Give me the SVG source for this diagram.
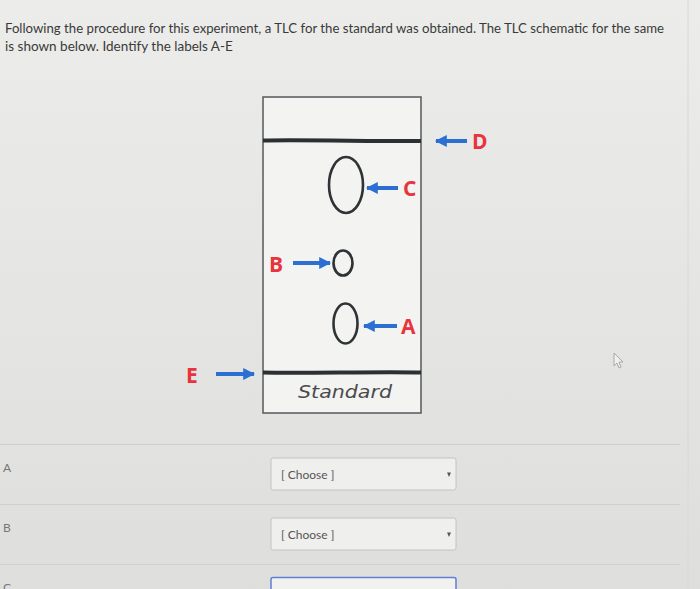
<svg xmlns="http://www.w3.org/2000/svg" width="700" height="589" viewBox="0 0 700 589">
<defs>
<linearGradient id="bg" x1="0" y1="0" x2="0" y2="1">
<stop offset="0" stop-color="#ececea"/>
<stop offset="1" stop-color="#dededd"/>
</linearGradient>
<marker id="ah" viewBox="0 0 10 10" refX="9" refY="5" markerWidth="3" markerHeight="3.2" orient="auto" markerUnits="strokeWidth">
<path d="M0,0 L10,5 L0,10 z" fill="#2b6fd2"/>
</marker>
<style>
.q{font-family:Lato,"Open Sans",sans-serif;font-size:13.5px;fill:#3a3a3a}
.lbl{font-family:"Open Sans","Liberation Sans",sans-serif;font-weight:bold;font-size:21px;fill:#e8343c}
.arr{stroke:#2b6fd2;stroke-width:4;fill:none;marker-end:url(#ah)}
.spot{fill:none;stroke:#2f3336;stroke-width:2.6}
.band{stroke:#2d3033;stroke-width:4;fill:none}
.sep{stroke:#cfcfcd;stroke-width:1}
.row{font-family:Lato,"Open Sans",sans-serif;font-size:12px;fill:#777}
.dd{fill:#efefed;stroke:#c4c4c2;stroke-width:1}
.ddt{font-family:Lato,"Open Sans",sans-serif;font-size:12px;fill:#555}
</style>
</defs>
<rect width="700" height="589" fill="url(#bg)"/>
<line x1="688" y1="0" x2="688" y2="589" stroke="#d8d8d6" stroke-width="1"/>
<g id="question">
<text class="q" x="5" y="33" textLength="659" lengthAdjust="spacingAndGlyphs">Following the procedure for this experiment, a TLC for the standard was obtained. The TLC schematic for the same</text>
<text class="q" x="5" y="51">is shown below. Identify the labels A-E</text>
</g>
<g id="plate">
<rect x="263" y="97" width="158" height="316" fill="#f3f3f2" stroke="#55585c" stroke-width="1.5"/>
<text x="345" y="398" text-anchor="middle" font-family="'DejaVu Sans',sans-serif" font-style="italic" font-size="18" fill="#4a4a4a" textLength="94" lengthAdjust="spacingAndGlyphs">Standard</text>
</g>
<g id="solvent-front"><path class="band" d="M263,140.5 C300,139.5 380,141.5 421,141"/></g>
<g id="baseline"><path class="band" d="M263,372.5 C300,373.5 380,371.5 421,372.5"/></g>
<g id="spot-C"><ellipse class="spot" cx="346" cy="185" rx="17" ry="28"/></g>
<g id="spot-B"><ellipse class="spot" cx="343" cy="263" rx="9.5" ry="12.5"/></g>
<g id="spot-A"><ellipse class="spot" cx="345.5" cy="323.5" rx="12" ry="20"/></g>
<g id="connectors">
<line class="arr" x1="467" y1="141" x2="436" y2="141"/>
<line class="arr" x1="398" y1="188" x2="367" y2="188"/>
<line class="arr" x1="293" y1="263" x2="330" y2="263"/>
<line class="arr" x1="397" y1="326" x2="364" y2="326"/>
<line class="arr" x1="216" y1="374" x2="254" y2="374"/>
</g>
<g id="labels">
<text class="lbl" x="472" y="149">D</text>
<text class="lbl" x="403" y="196">C</text>
<text class="lbl" x="269" y="272">B</text>
<text class="lbl" x="401" y="334">A</text>
<text class="lbl" x="186" y="383">E</text>
</g>
<g id="cursor">
<path d="M614,353 L614,366 L617,363 L619,368 L621,367 L619,362 L623,362 z" fill="#f0f0ee" stroke="#a9a9a7" stroke-width="1"/>
</g>
<g id="answers">
<line class="sep" x1="0" y1="444.5" x2="680" y2="444.5"/>
<line class="sep" x1="0" y1="504.5" x2="680" y2="504.5"/>
<line class="sep" x1="0" y1="564.5" x2="680" y2="564.5"/>
<text class="row" x="3" y="472">A</text>
<text class="row" x="3" y="532">B</text>
<text class="row" x="3" y="592">C</text>
<rect class="dd" x="271" y="458" width="185" height="32" rx="2"/>
<text class="ddt" x="281" y="479">[ Choose ]</text>
<path d="M447,472.5 L451,472.5 L449,477 z" fill="#555"/>
<rect class="dd" x="271" y="518" width="185" height="32" rx="2"/>
<text class="ddt" x="281" y="539">[ Choose ]</text>
<path d="M447,532.5 L451,532.5 L449,537 z" fill="#555"/>
<rect x="271" y="577.5" width="185" height="32" rx="2" fill="#f1f1ef" stroke="#5d7fd6" stroke-width="1.5"/>
</g>
</svg>
